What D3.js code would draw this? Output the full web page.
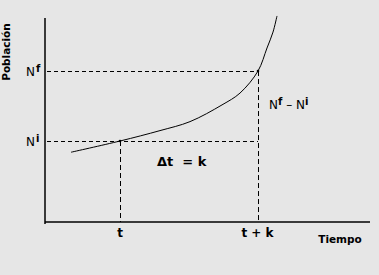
<!DOCTYPE html>
<html><head><meta charset="utf-8">
<script src="https://cdn.jsdelivr.net/npm/d3@7"></script>
<style>html,body{margin:0;padding:0;background:#e6e6e6;}svg{display:block;}</style>
</head><body>
<script>
// Data (arbitrary units)
const curveX = [1.04, 3.0, 4.6, 5.8, 7.08, 7.8, 8.52, 8.88, 9.12, 9.28];
const curveY = [3.42, 3.97, 4.48, 4.92, 5.74, 6.32, 7.40, 8.53, 9.31, 10.10];
const tValues = [3.0, 8.52];           // t, t + k
const tLabels = ["t", "t + k"];
const nValues = [3.97, 7.40];          // Ni, Nf
const nLabels = [["N", "i"], ["N", "f"]];

const W = 379, H = 275;
const svg = d3.select("body").append("svg").attr("width", W).attr("height", H)
  .style("font-family", "'DejaVu Sans', Verdana, sans-serif");
svg.append("rect").attr("width", W).attr("height", H).attr("fill", "#e6e6e6");

const x = d3.scaleLinear().domain([0, 13]).range([45, 370]);
const y = d3.scaleLinear().domain([0, 10]).range([222, 18]);

const ink = "#000";

// Dashed guides
nValues.forEach((nv, i) => {
  svg.append("line")
    .attr("x1", x(0) + 2).attr("x2", x(tValues[1]))
    .attr("y1", Math.round(y(nv)) + 0.5).attr("y2", Math.round(y(nv)) + 0.5)
    .attr("stroke", ink).attr("stroke-width", 1).attr("stroke-dasharray", "4,3");
});
svg.append("line")
  .attr("x1", Math.round(x(tValues[0])) + 0.5).attr("x2", Math.round(x(tValues[0])) + 0.5)
  .attr("y1", y(nValues[0])).attr("y2", y(0))
  .attr("stroke", ink).attr("stroke-width", 1).attr("stroke-dasharray", "5,3");
svg.append("line")
  .attr("x1", Math.round(x(tValues[1])) + 0.5).attr("x2", Math.round(x(tValues[1])) + 0.5)
  .attr("y1", y(nValues[1])).attr("y2", y(0))
  .attr("stroke", ink).attr("stroke-width", 1).attr("stroke-dasharray", "5,3");

// Axes
svg.append("line").attr("x1", x(0)).attr("x2", x(0)).attr("y1", y(10)).attr("y2", y(0) + 2)
  .attr("stroke", ink).attr("stroke-width", 1.5);
svg.append("line").attr("x1", x(0)).attr("x2", x(13)).attr("y1", y(0)).attr("y2", y(0))
  .attr("stroke", ink).attr("stroke-width", 1.5);

// Curve
const pts = curveX.map((v, i) => [v, curveY[i]]);
svg.append("path").datum(pts)
  .attr("d", d3.line().x(d => x(d[0])).y(d => y(d[1])).curve(d3.curveCatmullRom.alpha(0.5)))
  .attr("fill", "none").attr("stroke", ink).attr("stroke-width", 1);

// Intersection markers
svg.append("circle").attr("cx", x(tValues[0])).attr("cy", y(nValues[0])).attr("r", 1.3).attr("fill", ink);
svg.append("circle").attr("cx", x(tValues[1])).attr("cy", y(nValues[1])).attr("r", 1.3).attr("fill", ink);

// Y tick labels
nLabels.forEach((lab, i) => {
  const t = svg.append("text").attr("x", 26).attr("y", y(nValues[i]) + 5)
    .attr("font-size", 12).attr("fill", ink);
  t.append("tspan").text(lab[0]);
  t.append("tspan").attr("dy", -4).attr("dx", 1).attr("font-size", 10).attr("font-weight", "bold").text(lab[1]);
});

// X tick labels
tLabels.forEach((lab, i) => {
  svg.append("text").attr("x", x(tValues[i]) + (i === 1 ? -0.5 : 0)).attr("y", 237)
    .attr("text-anchor", "middle").attr("font-size", 12).attr("font-weight", "bold")
    .attr("fill", ink).text(lab);
});

// Axis titles
svg.append("text").attr("x", 340).attr("y", 243).attr("text-anchor", "middle")
  .attr("font-size", 10.5).attr("font-weight", "bold").attr("fill", ink).text("Tiempo");
svg.append("text").attr("transform", "translate(10,52) rotate(-90)").attr("text-anchor", "middle")
  .attr("font-size", 10.5).attr("font-weight", "bold").attr("fill", ink).text("Población");

// Annotations
const d1 = svg.append("text").attr("x", 269).attr("y", 109).attr("font-size", 12).attr("fill", ink);
d1.append("tspan").text("N");
d1.append("tspan").attr("dy", -4).attr("font-size", 10).attr("font-weight", "bold").text("f");
d1.append("tspan").attr("dy", 4).text(" – N");
d1.append("tspan").attr("dy", -4).attr("font-size", 10).attr("font-weight", "bold").text("i");

svg.append("text").attr("x", 157).attr("y", 166).attr("font-size", 13).attr("font-weight", "bold")
  .attr("fill", ink).attr("xml:space", "preserve").text("Δt  = k");
</script>
</body></html>
